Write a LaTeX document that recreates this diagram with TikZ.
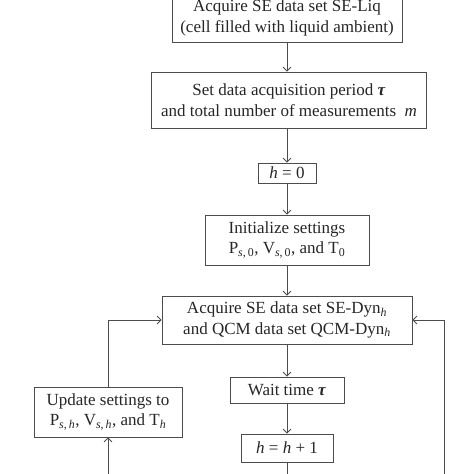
\documentclass[tikz,border=0pt]{standalone}
\usepackage{fontspec}
\setmainfont{Liberation Serif}
\usetikzlibrary{arrows.meta}
\definecolor{linec}{gray}{0.3}
\begin{document}
\begin{tikzpicture}[x=1pt,y=-1pt,
  box/.style={draw=linec, line width=0.8pt, align=center, inner sep=0pt, fill=white,
    font=\fontsize{17}{20.5}\selectfont, text=black!85},
  arr/.style={draw=linec, line width=0.8pt, -{Straight Barb[length=4pt,width=8pt]}},
  ln/.style={draw=linec, line width=0.8pt}]
\useasboundingbox (0,0) rectangle (474,474);
\clip (0,0) rectangle (474,474);
\node[box, minimum width=230pt, minimum height=48pt] (liq) at (287,18)
  {Acquire SE data set SE-Liq\\(cell filled with liquid ambient)};
\node[box, minimum width=275pt, minimum height=56pt] (set) at (289,100)
  {Set data acquisition period \textit{\textbf{τ}}\\and total number of measurements \ \textit{m}};
\node[box, minimum width=58pt, minimum height=20pt] (h0) at (287,173)
  {\textit{h} = 0};
\node[box, minimum width=164pt, minimum height=50pt] (init) at (287,240)
  {Initialize settings\\P\textsubscript{\textit{s},\,0}, V\textsubscript{\textit{s},\,0}, and T\textsubscript{0}};
\node[box, minimum width=250pt, minimum height=48pt] (acq) at (287,320)
  {Acquire SE data set SE-Dyn\textsubscript{\textit{h}}\\and QCM data set QCM-Dyn\textsubscript{\textit{h}}};
\node[box, minimum width=114pt, minimum height=26pt] (wait) at (287,390)
  {Wait time \textit{\textbf{τ}}};
\node[box, minimum width=92pt, minimum height=28pt] (hp1) at (287,448)
  {\textit{h} = \textit{h} + 1};
\node[box, minimum width=148pt, minimum height=50pt] (upd) at (108,412)
  {Update settings to\\P\textsubscript{\textit{s},\,\textit{h}}, V\textsubscript{\textit{s},\,\textit{h}}, and T\textsubscript{\textit{h}}};
\coordinate (hb) at (287,480);
\coordinate (ub) at (108,480);
\coordinate (rb) at (444,480);
\draw[arr] (liq) -- (liq |- set.north);
\draw[arr] (set.south -| h0) -- (h0);
\draw[arr] (h0) -- (init);
\draw[arr] (init) -- (acq);
\draw[arr] (acq) -- (wait);
\draw[arr] (wait) -- (hp1);
\draw[ln] (hp1) -- (hb);
\draw[arr] (ub) -- (upd);
\draw[arr] (upd.north) |- (acq.west);
\draw[arr] (rb) |- (acq.east);
\end{tikzpicture}
\end{document}
